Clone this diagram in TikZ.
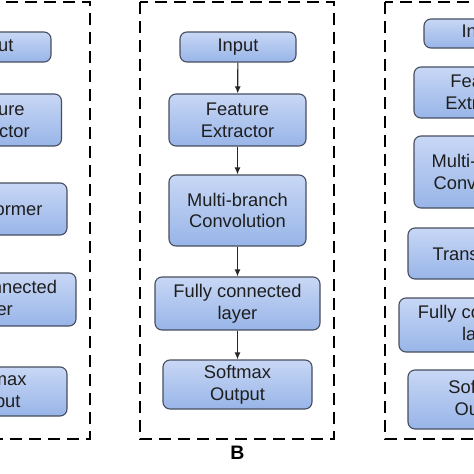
\documentclass[tikz,border=0pt]{standalone}
\usepackage{fontspec}
\setmainfont{Liberation Sans}
\usetikzlibrary{arrows.meta,positioning}
\definecolor{boxtop}{RGB}{200,215,245}
\definecolor{boxbot}{RGB}{152,181,232}
\definecolor{boxline}{RGB}{70,78,95}
\definecolor{boxtext}{RGB}{30,30,30}
\begin{document}
\begin{tikzpicture}[x=1pt,y=-1pt, block/.style={draw=boxline,line width=1.1pt,top color=boxtop,bottom color=boxbot,rounded corners=7pt,align=center,inner sep=0pt,text=boxtext,font=\fontsize{18.3}{21.7}\selectfont}, panel/.style={draw=black,line width=2.6pt,dash pattern=on 12pt off 7pt}, arrow/.style={-{Latex[length=7pt,width=6pt]},line width=1.2pt,draw=black!85}]
\useasboundingbox (0,0) rectangle (474,474);
\clip (0,0) rectangle (474,474);
\fill[white] (0,0) rectangle (474,474);
% panel A (cut on the left)
\draw[panel] (-104,2) rectangle (90,439);
\node[block,minimum width=116pt,minimum height=30pt] (inA) at (-7,47) {Input};
\node[block,minimum width=137pt,minimum height=52pt] (featA) at (-7,120) {Feature\\Extractor};
\node[block,minimum width=148pt,minimum height=52pt] (trA) at (-7,209) {Transformer};
\node[block,minimum width=166pt,minimum height=53pt] (fcA) at (-7,299.5) {Fully connected\\layer};
\node[block,minimum width=148pt,minimum height=49pt] (smA) at (-7,391.5) {Softmax\\Output};
% panel B
\draw[panel] (140,2) rectangle (334,439);
\node[block,minimum width=116pt,minimum height=30pt] (inB) at (238,47) {Input};
\node[block,minimum width=137pt,minimum height=52pt] (featB) at (237.5,120) {Feature\\Extractor};
\node[block,minimum width=137pt,minimum height=71pt] (convB) at (237.5,210.5) {Multi-branch\\Convolution};
\node[block,minimum width=165pt,minimum height=53pt] (fcB) at (237.5,303.5) {Fully connected\\layer};
\node[block,minimum width=149pt,minimum height=49pt] (smB) at (237.5,384.5) {Softmax\\Output};
\draw[arrow] (inB)--(featB); \draw[arrow] (featB)--(convB); \draw[arrow] (convB)--(fcB); \draw[arrow] (fcB)--(smB);
\node[font=\fontsize{19.5}{22}\selectfont\bfseries] (labB) at (237.5,453) {B};
% panel C (cut on the right)
\draw[panel] (385,2) rectangle (579,439);
\node[block,minimum width=116pt,minimum height=29pt] (inC) at (482,33.5) {Input};
\node[block,minimum width=136pt,minimum height=51pt] (featC) at (482,92.5) {Feature\\Extractor};
\node[block,minimum width=136pt,minimum height=72pt] (convC) at (482,172) {Multi-branch\\Convolution};
\node[block,minimum width=148pt,minimum height=51pt] (trC) at (482,253.5) {Transformer};
\node[block,minimum width=166pt,minimum height=54pt] (fcC) at (482,325) {Fully connected\\layer};
\node[block,minimum width=148pt,minimum height=59pt] (smC) at (482,399.5) {Softmax\\Output};
\end{tikzpicture}
\end{document}
